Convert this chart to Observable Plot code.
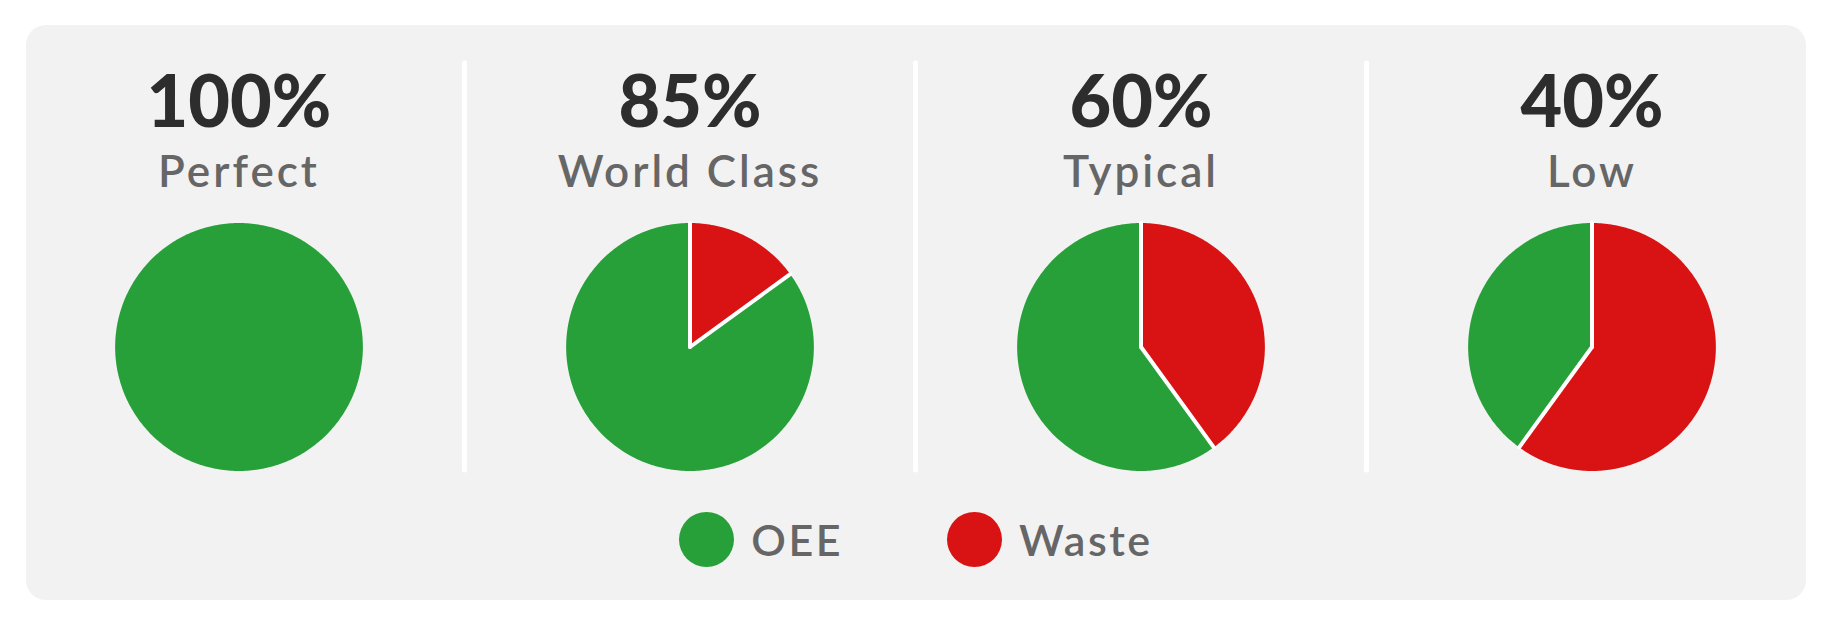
<!DOCTYPE html>
<html><head><meta charset="utf-8">
<script src="https://cdn.jsdelivr.net/npm/d3@7"></script>
<script src="https://cdn.jsdelivr.net/npm/@observablehq/plot@0.6"></script>
<style>
html,body{margin:0;padding:0;background:#fff;width:1832px;height:626px;overflow:hidden;font-family:Lato,sans-serif;}
#panel{position:absolute;left:26px;top:25px;width:1780px;height:575px;background:#f2f2f2;border-radius:20px;}
#chart{position:absolute;left:0;top:0;}
#legend{position:absolute;left:0;top:512px;width:1832px;height:55px;display:flex;justify-content:center;align-items:center;}
.item{display:flex;align-items:center;margin:0 52px;}
.sw{width:55px;height:55px;border-radius:50%;margin-right:17px;}
.lab{font-family:Lato,sans-serif;font-size:43px;font-weight:600;color:#666;letter-spacing:2.5px;line-height:55px;}
</style></head><body>
<div id="panel"></div><div id="chart"></div><div id="legend"></div>
<script>
// ---- data ----
const categories = ["Perfect", "World Class", "Typical", "Low"];
const oee = [100, 85, 60, 40];
const waste = [0, 15, 40, 60];
const sliceOrder = ["Waste", "OEE"];      // clockwise from 12 o'clock
const legendNames = ["OEE", "Waste"];
const colors = ["#27a03a", "#d91313"];

// ---- build slice polygons (unit circle) and slice boundaries ----
const slices = [];
const bounds = [];
categories.forEach((cat, i) => {
  const vals = {OEE: oee[i], Waste: waste[i]};
  const total = oee[i] + waste[i];
  let acc = 0;
  sliceOrder.forEach(s => {
    const v = vals[s];
    if (v <= 0) return;
    const a0 = acc / total * 2 * Math.PI, a1 = (acc + v) / total * 2 * Math.PI;
    acc += v;
    const key = cat + "-" + s;
    const full = v >= total;
    if (!full) {
      slices.push({category: cat, series: s, key, x: 0, y: 0});
      bounds.push({category: cat, x: Math.sin(a0), y: Math.cos(a0)});
    }
    const n = Math.max(2, Math.ceil((a1 - a0) / (Math.PI / 180)));
    for (let k = 0; k <= (full ? n - 1 : n); k++) {
      const a = a0 + (a1 - a0) * k / n;
      slices.push({category: cat, series: s, key, x: Math.sin(a), y: Math.cos(a)});
    }
  });
});

const W = 1832, H = 500, ml = 12, mr = 14;
const step = (W - ml - mr) / 4;
const px = 124;               // pixels per unit radius
const xHalf = step / 2 / px;
const cy = 346.5;
const yTop = cy / px, yBot = -(H - cy) / px;

const chart = Plot.plot({
  width: W, height: H,
  marginTop: 0, marginBottom: 0, marginLeft: ml, marginRight: mr,
  fx: {domain: categories, padding: 0, axis: null},
  x: {domain: [-xHalf, xHalf], axis: null},
  y: {domain: [yBot, yTop], axis: null},
  color: {domain: legendNames, range: colors},
  style: {background: "transparent", fontFamily: "Lato, sans-serif", overflow: "visible"},
  marks: [
    Plot.ruleX(categories.slice(1), {fx: d => d, x: () => -xHalf, y1: () => (cy - 63) / px, y2: () => (cy - 470) / px,
      stroke: "white", strokeWidth: 5, strokeLinecap: "round"}),
    Plot.line(slices, {fx: "category", x: "x", y: "y", z: "key", fill: "series", stroke: null,
      curve: "linear-closed"}),
    Plot.link(bounds, {fx: "category", x1: () => 0, y1: () => 0, x2: "x", y2: "y",
      stroke: "white", strokeWidth: 4, strokeLinecap: "round"}),
    Plot.text(categories, {fx: d => d, text: (d, i) => oee[i] + "%", frameAnchor: "top", dy: 75,
      fontSize: 72, fontWeight: 900, fill: "#2d2d2d"}),
    Plot.text(categories, {fx: d => d, text: d => d, frameAnchor: "top", dy: 155,
      fontSize: 44, fontWeight: 600, fill: "#666"})
  ]
});
const textGroups = chart.querySelectorAll('g[aria-label="text"]');
if (textGroups[1]) textGroups[1].style.letterSpacing = "3px";
document.getElementById("chart").appendChild(chart);

// ---- legend ----
const legend = document.getElementById("legend");
legendNames.forEach((name, i) => {
  const it = document.createElement("div"); it.className = "item";
  const sw = document.createElement("div"); sw.className = "sw"; sw.style.background = colors[i];
  const lb = document.createElement("span"); lb.className = "lab"; lb.textContent = name;
  it.appendChild(sw); it.appendChild(lb); legend.appendChild(it);
});
</script>
</body></html>
